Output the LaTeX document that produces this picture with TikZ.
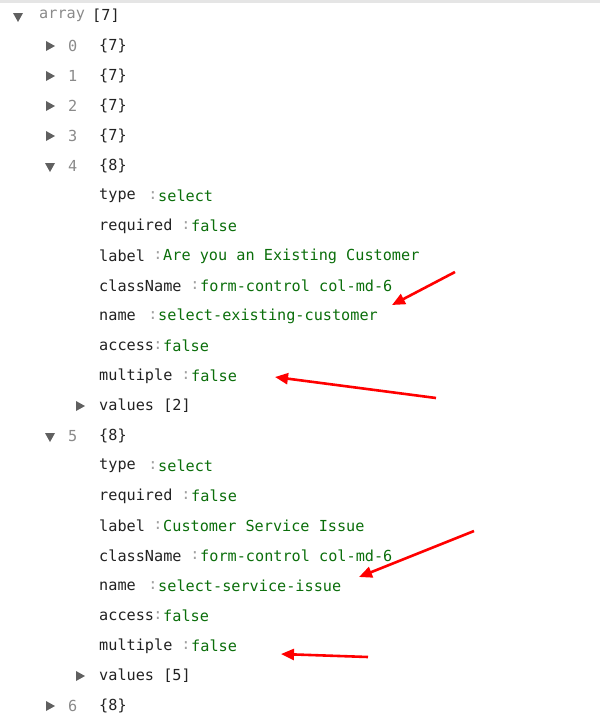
\documentclass[tikz,border=0pt]{standalone}
\usepackage{fontspec}
\setmonofont{DejaVu Sans Mono}
\usetikzlibrary{arrows.meta}
\definecolor{keyc}{HTML}{222222}
\definecolor{valc}{HTML}{0B6E0B}
\definecolor{idxc}{HTML}{8A8A8A}
\definecolor{tric}{HTML}{606060}
\definecolor{colc}{HTML}{A0A0A0}
\tikzset{
  txt/.style={anchor=west,inner sep=0pt,font=\ttfamily\fontsize{15.2}{17}\selectfont},
  keyt/.style={txt,text=keyc},
  valt/.style={txt,text=valc},
  idxt/.style={txt,text=idxc},
  colt/.style={txt,text=colc},
  redarrow/.style={draw=red,line width=2.6pt,-{Triangle[length=13pt,width=11pt]}},
}
\newcommand{\tdown}[2]{\fill[tric] (#1-5,#2-4) -- (#1+5,#2-4) -- (#1,#2+5) -- cycle;}
\newcommand{\tright}[2]{\fill[tric] (#1-4,#2+5) -- (#1-4,#2-5) -- (#1+5,#2) -- cycle;}
\newcommand{\kv}[5]{\node[keyt] (k#1) at (99,#2) {#3};
  \node[colt,anchor=center] (c#1) at (#4-5,#2) {:};
  \node[valt] (v#1) at (#4,#2) {#5};}
\begin{document}
\begin{tikzpicture}[x=1pt,y=-1pt]
\useasboundingbox (0,0) rectangle (600,728);
\fill[gray!20] (0,0) rectangle (600,3);
\tdown{18}{17}
\node[idxt] (arr) at (39,16) {array};
\node[txt,text=keyc] (arrn) at (92,16) {[7]};
\foreach \i/\n in {0/7,1/7,2/7,3/7} {
  \tright{50}{46+30*\i}
  \node[idxt] (i\i) at (68,46+30*\i) {\i};
  \node[keyt] (b\i) at (99,46+30*\i) {\{\n\}};
}
\tdown{50}{167}
\node[idxt] (i4) at (68,166) {4};
\node[keyt] (b4) at (99,166) {\{8\}};
\kv{a1}{196}{type}{158}{select}
\kv{a2}{226}{required}{191}{false}
\kv{a3}{256}{label}{163}{Are you an Existing Customer}
\kv{a4}{286}{className}{200}{form-control col-md-6}
\kv{a5}{316}{name}{158}{select-existing-customer}
\kv{a6}{346}{access}{163}{false}
\kv{a7}{376}{multiple}{191}{false}
\tright{80}{406}
\node[keyt] (va) at (99,406) {values [2]};
\tdown{50}{437}
\node[idxt] (i5) at (68,436) {5};
\node[keyt] (b5) at (99,436) {\{8\}};
\kv{b1}{466}{type}{158}{select}
\kv{b2}{496}{required}{191}{false}
\kv{b3}{526}{label}{163}{Customer Service Issue}
\kv{b4}{556}{className}{200}{form-control col-md-6}
\kv{b5}{586}{name}{158}{select-service-issue}
\kv{b6}{616}{access}{163}{false}
\kv{b7}{646}{multiple}{191}{false}
\tright{80}{676}
\node[keyt] (vb) at (99,676) {values [5]};
\tright{50}{706}
\node[idxt] (i6) at (68,706) {6};
\node[keyt] (b6) at (99,706) {\{8\}};
\coordinate (s1) at (455,272); \coordinate (e1) at (392,305);
\coordinate (s2) at (436,398); \coordinate (e2) at (275,377);
\coordinate (s3) at (474,531); \coordinate (e3) at (359,577);
\coordinate (s4) at (368,657); \coordinate (e4) at (281,654);
\draw[redarrow] (s1) -- (e1);
\draw[redarrow] (s2) -- (e2);
\draw[redarrow] (s3) -- (e3);
\draw[redarrow] (s4) -- (e4);
\end{tikzpicture}
\end{document}
